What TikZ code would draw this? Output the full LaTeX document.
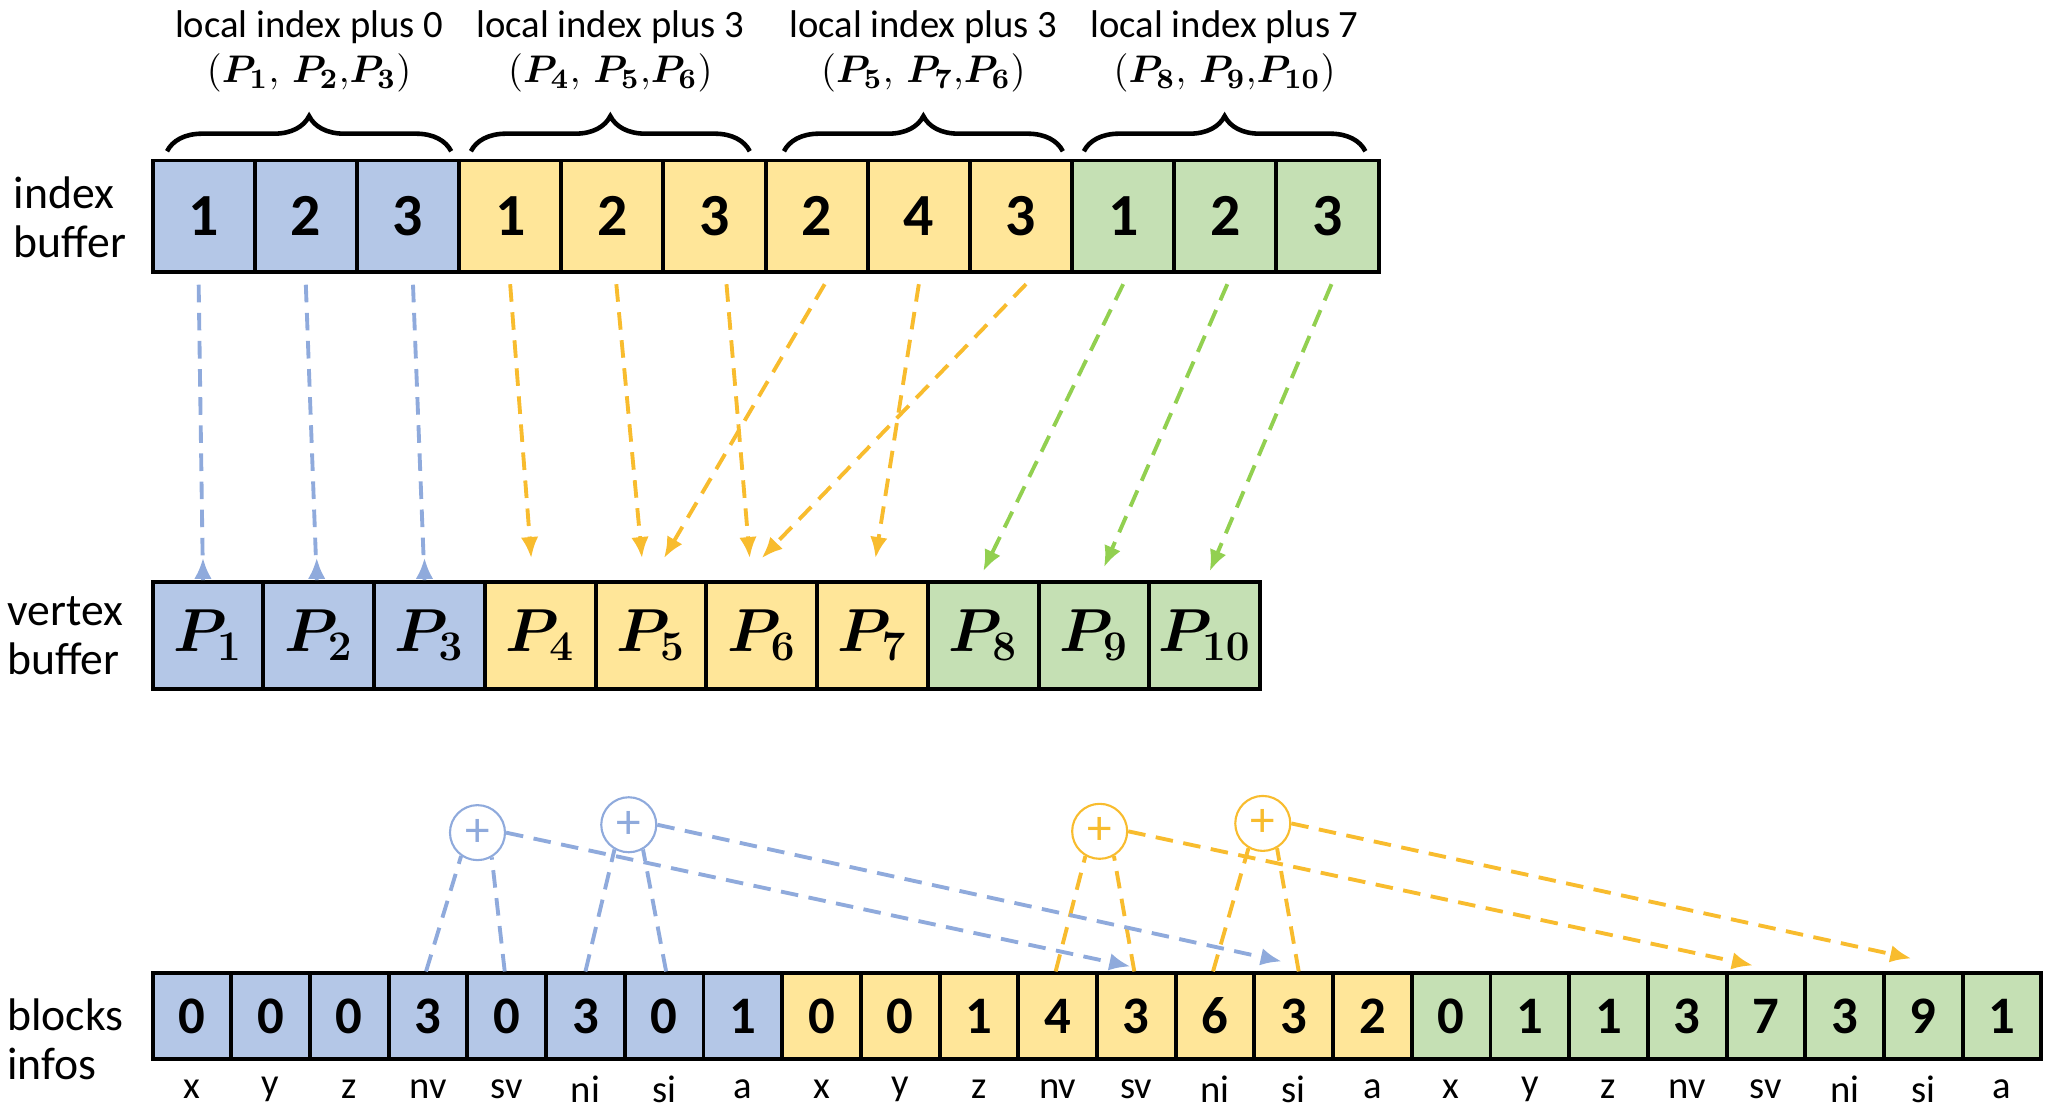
\documentclass[tikz,border=0pt]{standalone}
\usepackage{amsmath,bm}
\usepackage{fontspec}
\setmainfont{Carlito}
\usetikzlibrary{arrows.meta,decorations.pathreplacing}
\definecolor{bfill}{HTML}{B4C7E7}\definecolor{bline}{HTML}{8FAADC}
\definecolor{yfill}{HTML}{FFE699}\definecolor{yline}{HTML}{F8BC2E}
\definecolor{gfill}{HTML}{C5E0B4}\definecolor{gline}{HTML}{92D050}
\begin{document}
\begin{tikzpicture}[x=0.01315cm,y=-0.01315cm,
  cell/.style={draw=black,line width=1.1pt,inner sep=0pt,font=\fontsize{17}{17}\selectfont\bfseries},
  icell/.style={cell,minimum width=1.0214cm,minimum height=1.118cm},
  vcell/.style={cell,minimum width=1.107cm,minimum height=1.065cm,font=\fontsize{17}{17}\selectfont},
  bcell/.style={cell,minimum width=0.7868cm,minimum height=0.855cm,font=\fontsize{15}{15}\selectfont\bfseries},
  lab/.style={font=\fontsize{13}{14}\selectfont,align=left,anchor=west,inner sep=0pt},
  sub/.style={font=\fontsize{11}{11}\selectfont,inner sep=0pt},
  head/.style={font=\fontsize{11}{13}\selectfont,align=center,inner sep=0pt},
  arr/.style={dashed,line width=1.1pt,dash pattern=on 5pt off 3pt,-{Latex[length=6pt,width=5pt]}},
  ln/.style={dashed,line width=1.1pt,dash pattern=on 5pt off 3pt},
  plus/.style={circle,draw,line width=0.6pt,minimum size=0.55cm,inner sep=0pt,font=\fontsize{14}{14}\selectfont}]
\useasboundingbox (0,0) rectangle (1560,850);
% labels
\node[lab] (lidx) at (10,165) {index\\buffer};
\node[lab] (lvtx) at (5,483) {vertex\\buffer};
\node[lab] (lblk) at (5,790) {blocks\\infos};
% index buffer
\foreach \v [count=\i] in {1,2,3,1,2,3,2,4,3,1,2,3}{
  \pgfmathsetmacro\c{\i<4?"bfill":(\i<10?"yfill":"gfill")}
  \node[icell,fill=\c] (i\i) at ({116+77.67*(\i-0.5)},164.5) {\v};}
% vertex buffer
\foreach \i in {1,...,10}{
  \pgfmathsetmacro\c{\i<4?"bfill":(\i<8?"yfill":"gfill")}
  \node[vcell,fill=\c] (v\i) at ({116+84.2*(\i-0.5)},483) {$\bm{P_{\i}}$};}
% blocks
\foreach \v/\l [count=\i] in {0/x,0/y,0/z,3/nv,0/sv,3/ni,0/si,1/a,0/x,0/y,1/z,4/nv,3/sv,6/ni,3/si,2/a,0/x,1/y,1/z,3/nv,7/sv,3/ni,9/si,1/a}{
  \pgfmathsetmacro\c{\i<9?"bfill":(\i<17?"yfill":"gfill")}
  \node[bcell,fill=\c] (b\i) at ({116+59.83*(\i-0.5)},772.5) {\v};
  \node[sub] (t\i) at ({116+59.83*(\i-0.5)},828) {\l};}
% braces and headings
\foreach \a/\b/\t [count=\k] in {127/343/{local index plus 0\\$(\bm{P_1},\,\bm{P_2},\!\bm{P_3})$},
  358/570/{local index plus 3\\$(\bm{P_4},\,\bm{P_5},\!\bm{P_6})$},
  596/808/{local index plus 3\\$(\bm{P_5},\,\bm{P_7},\!\bm{P_6})$},
  824/1038/{local index plus 7\\$(\bm{P_8},\,\bm{P_9},\!\bm{P_{10}})$}}{
  \draw[line width=1.3pt,decorate,decoration={brace,amplitude=10pt}] (\a,115) -- (\b,115);
  \node[head] (h\k) at ({(\a+\b)/2},39) {\t};}
% index -> vertex arrows
\tikzset{ia/.style={arr,draw=#1}}
\draw[ia=bline] ([xshift=-0.05cm]i1.south)++(0,8) -- ([xshift=-0.05cm]v1.north)++(0,-17);
\draw[ia=bline] (i2.south)++(0,8) -- ([xshift=-0.02cm]v2.north)++(0,-17);
\draw[ia=bline] ([xshift=0.05cm]i3.south)++(0,8) -- ([xshift=-0.05cm]v3.north)++(0,-17);
\coordinate (e4) at ([xshift=-0.09cm,yshift=0.22cm]v4.north);
\coordinate (e5a) at ([xshift=-0.09cm,yshift=0.22cm]v5.north);
\coordinate (e5b) at ([xshift=0.13cm,yshift=0.22cm]v5.north);
\coordinate (e6a) at ([xshift=-0.12cm,yshift=0.22cm]v6.north);
\coordinate (e6b) at ([xshift=0.0cm,yshift=0.22cm]v6.north);
\coordinate (e7) at ([xshift=0.03cm,yshift=0.22cm]v7.north);
\coordinate (e8) at ([yshift=0.09cm]v8.north);
\coordinate (e9) at ([xshift=0.1cm,yshift=0.13cm]v9.north);
\coordinate (e10) at ([xshift=0.05cm,yshift=0.09cm]v10.north);
\draw[ia=yline] ([xshift=0.0cm,yshift=-0.1cm]i4.south) -- (e4);
\draw[ia=yline] ([xshift=0.04cm,yshift=-0.1cm]i5.south) -- (e5a);
\draw[ia=yline] ([xshift=0.12cm,yshift=-0.1cm]i6.south) -- (e6a);
\draw[ia=yline] ([xshift=0.08cm,yshift=-0.1cm]i7.south) -- (e5b);
\draw[ia=yline] ([xshift=0.0cm,yshift=-0.1cm]i8.south) -- (e7);
\draw[ia=yline] ([xshift=0.05cm,yshift=-0.1cm]i9.south) -- (e6b);
\draw[ia=gline] ([xshift=0.0cm,yshift=-0.1cm]i10.south) -- (e8);
\draw[ia=gline] ([xshift=0.02cm,yshift=-0.1cm]i11.south) -- (e9);
\draw[ia=gline] ([xshift=0.04cm,yshift=-0.1cm]i12.south) -- (e10);
% adders
\node[plus,draw=bline,text=bline] (p1) at (363,633) {+};
\node[plus,draw=bline,text=bline] (p2) at (478,627) {+};
\node[plus,draw=yline,text=yline] (p3) at (836,632) {+};
\node[plus,draw=yline,text=yline] (p4) at (960,626) {+};
\draw[ln,draw=bline] ([xshift=-0.02cm]b4.north) -- (p1.235);
\draw[ln,draw=bline] ([xshift=-0.02cm]b5.north) -- (p1.300);
\draw[ln,draw=bline] ([xshift=-0.0cm]b6.north) -- (p2.240);
\draw[ln,draw=bline] ([xshift=0.02cm]b7.north) -- (p2.300);
\draw[ln,draw=yline] ([xshift=-0.02cm]b12.north) -- (p3.240);
\draw[ln,draw=yline] ([xshift=-0.02cm]b13.north) -- (p3.300);
\draw[ln,draw=yline] ([xshift=-0.02cm]b14.north) -- (p4.240);
\draw[ln,draw=yline] ([xshift=0.05cm]b15.north) -- (p4.300);
\draw[arr,draw=bline] (p1.east) -- ([xshift=-0.06cm,yshift=0.05cm]b13.north);
\draw[arr,draw=bline] (p2.east) -- ([xshift=-0.12cm,yshift=0.1cm]b15.north);
\draw[arr,draw=yline] (p3.east) -- ([xshift=-0.13cm,yshift=0.06cm]b21.north);
\draw[arr,draw=yline] (p4.east) -- ([xshift=-0.12cm,yshift=0.13cm]b23.north);
\end{tikzpicture}
\end{document}
